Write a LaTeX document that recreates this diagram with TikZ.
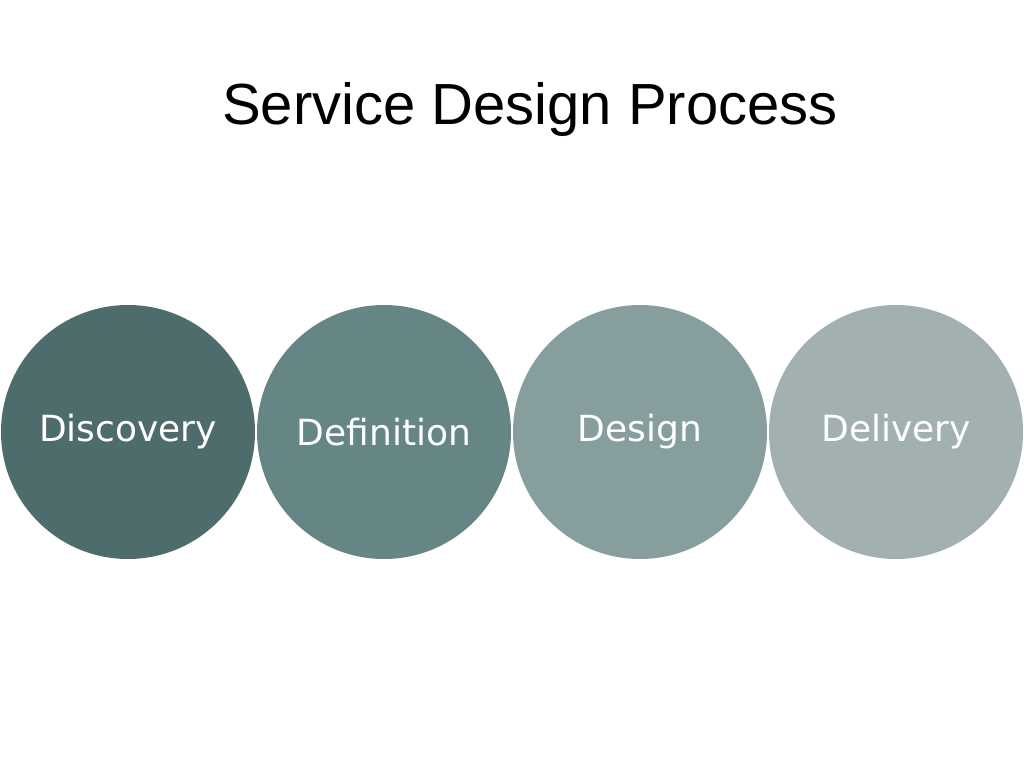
\documentclass[tikz,border=0pt]{standalone}
\usepackage{fontspec}
\setmainfont{Liberation Sans}
\newfontfamily\lblfont{DejaVu Sans}
\definecolor{c1}{HTML}{4E6C6C}
\definecolor{c2}{HTML}{668585}
\definecolor{c3}{HTML}{879E9E}
\definecolor{c4}{HTML}{A3B0B0}
\begin{document}
\begin{tikzpicture}[x=1pt,y=-1pt,
  phase/.style={circle,minimum size=254pt,inner sep=0pt,text=white,font=\lblfont\fontsize{36}{40}\selectfont}]
\useasboundingbox[fill=white] (0,0) rectangle (1024,768);
\node[font=\fontsize{58}{64}\selectfont] (title) at (530,110) {Service Design Process};
\node[phase,fill=c1] (a) at (128,432) {Discovery};
\node[phase,fill=c2] (b) at (384,432) {Definition};
\node[phase,fill=c3] (c) at (640,432) {Design};
\node[phase,fill=c4] (d) at (896,432) {Delivery};
\end{tikzpicture}
\end{document}
